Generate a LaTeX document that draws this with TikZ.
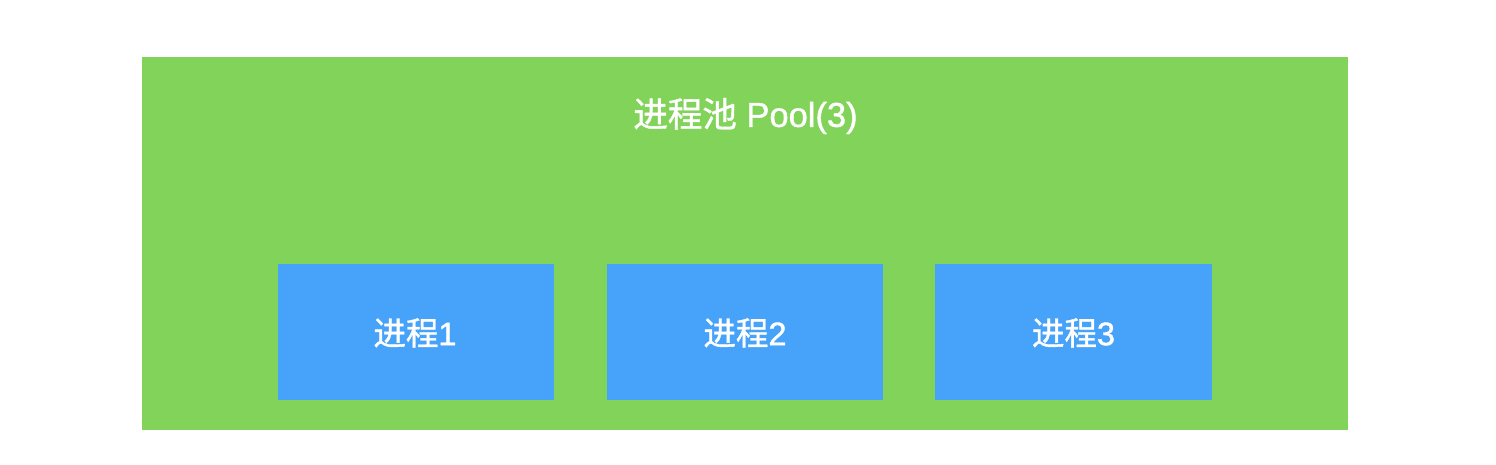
\documentclass[tikz,border=0pt]{standalone}
\usepackage{fontspec}
\setmainfont{Liberation Sans}[FakeBold=1.2]
\newfontfamily\cjk{Noto Sans CJK SC}[FakeBold=1.2]
\definecolor{poolgreen}{RGB}{130,211,89}
\definecolor{procblue}{RGB}{70,163,249}
\begin{document}
\begin{tikzpicture}[x=1pt,y=-1pt,
  proclabel/.style={text=white,inner sep=0pt,font=\fontsize{32.5}{38}\selectfont},
  ]
\useasboundingbox (0,0) rectangle (1496,464);
\fill[white] (0,0) rectangle (1496,464);
\fill[poolgreen] (142,57) rectangle (1348,430);
\node[text=white,inner sep=0pt,font=\fontsize{34.5}{40}\selectfont] (title) at (745.5,116) {{\cjk 进程池} Pool(3)};
\fill[procblue] (278,264) rectangle (554,400);
\fill[procblue] (607,264) rectangle (883,400);
\fill[procblue] (935,264) rectangle (1212,400);
\node[proclabel] (p1) at (415,333) {{\cjk 进程}1};
\node[proclabel] (p2) at (745,333) {{\cjk 进程}2};
\node[proclabel] (p3) at (1073.5,333) {{\cjk 进程}3};
\end{tikzpicture}
\end{document}
